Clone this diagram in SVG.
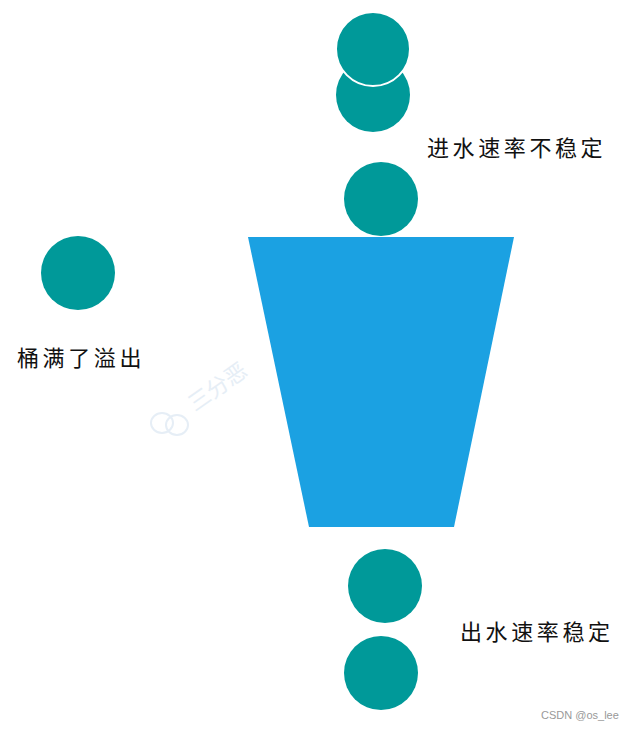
<svg xmlns="http://www.w3.org/2000/svg" width="634" height="729" viewBox="0 0 634 729">
<style>
.ball{fill:#009999;}
.lbl{font-family:"Noto Sans CJK SC","Noto Sans",sans-serif;font-size:22px;fill:#111;letter-spacing:3.6px;}
.wm{font-family:"Noto Sans CJK SC",sans-serif;font-size:22px;fill:#e6eef6;}
.csdn{font-family:"Liberation Sans",Arial,sans-serif;font-size:11px;fill:#999;}
</style>
<rect width="634" height="729" fill="#fff"/>
<g id="bucket"><polygon points="248,237 514,237 454,527 309,527" fill="#1BA1E2"/></g>
<g id="drop-in-2"><circle class="ball" cx="373" cy="95" r="37"/></g>
<g id="drop-in-1"><circle class="ball" cx="373" cy="49" r="37" stroke="#fff" stroke-width="2"/></g>
<g id="drop-in-3"><circle class="ball" cx="381" cy="199" r="37"/></g>
<g id="drop-overflow"><circle class="ball" cx="78" cy="273" r="37"/></g>
<g id="drop-out-1"><circle class="ball" cx="385" cy="586" r="37"/></g>
<g id="drop-out-2"><circle class="ball" cx="381" cy="673" r="37"/></g>
<g id="labels">
<text class="lbl" x="427" y="156">进水速率不稳定</text>
<text class="lbl" x="17" y="366">桶满了溢出</text>
<text class="lbl" x="460" y="640">出水速率稳定</text>
</g>
<g id="watermark">
<g fill="none" stroke="#e6eef6" stroke-width="2">
<ellipse cx="162" cy="423" rx="11" ry="10"/>
<ellipse cx="177" cy="425" rx="11" ry="10"/>
</g>
<text class="wm" transform="translate(195,412) rotate(-35)">三分恶</text>
</g>
<text class="csdn" x="541" y="719">CSDN @os_lee</text>
</svg>
